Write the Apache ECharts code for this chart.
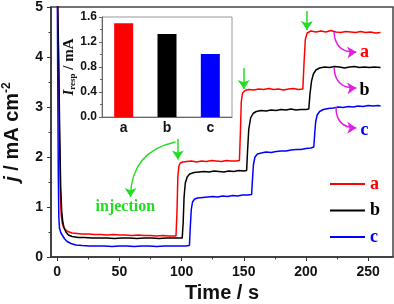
<!DOCTYPE html>
<html>
<head>
<meta charset="utf-8">
<script src="https://cdn.jsdelivr.net/npm/echarts@6/dist/echarts.min.js"></script>
<style>
  html, body { margin: 0; padding: 0; background: #fff; }
  #chart { width: 394px; height: 304px; }
</style>
</head>
<body>
<div id="chart"></div>
<script>
// current vs time, [t (s), j (mA cm-2)]
const curveA = [
  [0, 5.6], [1, 4.0], [1.8, 2.4], [2.5, 1.3], [3.2, 0.85], [4, 0.68], [5, 0.6], [6.5, 0.55], [8.5, 0.51], [12, 0.48],
  [16, 0.47], [20, 0.46], [25, 0.46], [30, 0.45], [35, 0.45], [40, 0.44], [45, 0.45], [50, 0.44], [55, 0.44], [60, 0.43],
  [65, 0.44], [70, 0.43], [75, 0.43], [80, 0.42], [85, 0.43], [90, 0.42], [95.5, 0.42],
  [96.3, 0.9], [97, 1.6], [97.8, 1.82], [99, 1.88], [101, 1.9], [104, 1.91], [108, 1.92], [112, 1.9], [116, 1.92],
  [120, 1.91], [124, 1.93], [128, 1.92], [132, 1.91], [136, 1.93], [140, 1.92], [144, 1.92], [146.5, 1.93],
  [147.3, 2.5], [148, 3.1], [149, 3.28], [151, 3.33], [154, 3.35], [158, 3.34], [162, 3.36], [166, 3.35], [170, 3.37],
  [174, 3.35], [178, 3.36], [182, 3.34], [186, 3.36], [190, 3.37], [194, 3.35], [197.5, 3.36],
  [198.5, 3.9], [199.5, 4.35], [201, 4.48], [204, 4.52], [208, 4.5], [212, 4.52], [216, 4.5], [220, 4.53], [224, 4.5],
  [228, 4.49], [232, 4.51], [236, 4.5], [240, 4.49], [244, 4.51], [248, 4.49], [252, 4.5], [256, 4.48], [260, 4.49]
]
const curveB = [
  [0, 5.6], [1.1, 4.1], [2, 2.5], [2.8, 1.4], [3.6, 0.92], [4.5, 0.7], [5.5, 0.58], [7, 0.5], [9, 0.44], [12, 0.41],
  [17, 0.39], [22, 0.39], [28, 0.38], [34, 0.38], [40, 0.38], [46, 0.37], [52, 0.38], [58, 0.38], [64, 0.37], [70, 0.38],
  [76, 0.38], [82, 0.37], [88, 0.38], [94, 0.38], [100.5, 0.38],
  [101.3, 0.7], [102, 1.2], [103, 1.48], [104.5, 1.6], [106.5, 1.66], [110, 1.69], [114, 1.7], [118, 1.71], [122, 1.7],
  [126, 1.72], [130, 1.71], [134, 1.7], [138, 1.72], [142, 1.71], [146, 1.73], [150, 1.72], [152.3, 1.73],
  [153, 2.1], [154, 2.55], [155.5, 2.78], [157.5, 2.87], [160, 2.91], [164, 2.93], [168, 2.92], [172, 2.94], [176, 2.93],
  [180, 2.95], [184, 2.94], [188, 2.96], [192, 2.94], [196, 2.95], [200, 2.95], [202.3, 2.96],
  [203.2, 3.25], [204.5, 3.52], [206, 3.66], [208, 3.74], [211, 3.78], [215, 3.8], [219, 3.79], [223, 3.81], [227, 3.8],
  [231, 3.78], [235, 3.8], [239, 3.81], [243, 3.79], [247, 3.8], [251, 3.79], [255, 3.8], [260, 3.79]
]
const curveC = [
  [0, 5.6], [0.5, 3.2], [0.9, 1.6], [1.3, 0.8], [1.8, 0.58], [3, 0.48], [4.5, 0.42], [6, 0.36], [8, 0.31], [11, 0.27],
  [15, 0.24], [20, 0.23], [26, 0.22], [32, 0.22], [38, 0.22], [44, 0.21], [50, 0.22], [56, 0.22], [62, 0.21], [68, 0.22],
  [74, 0.22], [80, 0.21], [86, 0.22], [92, 0.22], [98, 0.22], [103, 0.22], [106.3, 0.23],
  [107, 0.6], [107.8, 0.95], [108.8, 1.1], [110.5, 1.16], [113, 1.18], [117, 1.19], [121, 1.2], [125, 1.21], [129, 1.2],
  [133, 1.22], [137, 1.21], [141, 1.23], [145, 1.22], [149, 1.24], [153, 1.24], [156.3, 1.25],
  [157, 1.55], [157.8, 1.85], [159, 2.0], [161, 2.06], [164, 2.08], [168, 2.1], [172, 2.09], [176, 2.11], [180, 2.12],
  [184, 2.12], [188, 2.14], [192, 2.15], [196, 2.15], [200, 2.17], [204, 2.18], [206.3, 2.2],
  [207, 2.45], [207.8, 2.7], [209, 2.84], [211, 2.91], [214, 2.95], [218, 2.97], [222, 2.98], [226, 3.0], [230, 2.99],
  [234, 3.01], [238, 3.0], [242, 3.02], [246, 3.01], [250, 3.03], [254, 3.02], [258, 3.03], [260, 3.02]
]

// inset: response current
const insetCats = ['a', 'b', 'c']
const insetValues = [1.5, 1.33, 1.01]

const timeTicks = [0, 50, 100, 150, 200, 250]
const timeMinorTicks = [25, 75, 125, 175, 225]

// injection points (t) and the plateau they point at
const injectionTimes = [97, 150, 200.8]
const injectionTops = [2.36, 3.78, 4.92]
const injectionTips = [1.95, 3.36, 4.54]

const RED = '#ff0000'
const BLUE = '#0000ff'
const GREEN = '#22dd22'
const MAGENTA = '#e21ee2'
const SANS = '"Liberation Sans", Arial, sans-serif'
const SERIF = '"Liberation Serif", "Times New Roman", serif'
const AXIS = '#333'

const greenArrows = injectionTimes.map((t, i) => ({
  coords: [[t, injectionTops[i]], [t, injectionTips[i]]],
  lineStyle: { color: GREEN, width: 1.5, curveness: 0, opacity: 1 }
}))

// curved pointers: green from the first injection to the text, magenta to the curve labels
const curvedArrows = [
  { coords: [[95.2, 2.3], [58.9, 1.2]], lineStyle: { color: GREEN, width: 1.3, curveness: -0.4, opacity: 1 } },
  { coords: [[222.6, 4.5], [240.5, 4.1]], lineStyle: { color: MAGENTA, width: 1.5, curveness: -0.5, opacity: 1 } },
  { coords: [[222.6, 3.79], [240.5, 3.38]], lineStyle: { color: MAGENTA, width: 1.5, curveness: -0.5, opacity: 1 } },
  { coords: [[224.2, 3.0], [240.5, 2.58]], lineStyle: { color: MAGENTA, width: 1.5, curveness: -0.5, opacity: 1 } }
]

const textMarks = [
  { coord: [54.8, 1.0], text: 'injection', color: GREEN, size: 16 },
  { coord: [247, 4.1], text: 'a', color: RED, size: 18 },
  { coord: [247, 3.34], text: 'b', color: '#000', size: 18 },
  { coord: [247, 2.54], text: 'c', color: BLUE, size: 18 }
]

function lineSeries(name, data, color, extra) {
  return Object.assign({
    name,
    type: 'line',
    xAxisIndex: 0,
    yAxisIndex: 0,
    data,
    symbol: 'none',
    showSymbol: false,
    smooth: false,
    lineStyle: { color, width: 1.5 },
    itemStyle: { color },
    z: 2
  }, extra || {})
}

const option = {
  animation: false,
  backgroundColor: '#fff',
  legend: {
    orient: 'vertical',
    left: 325,
    top: 170,
    icon: 'rect',
    itemWidth: 35,
    itemHeight: 2,
    itemGap: 8.5,
    textStyle: { fontFamily: SERIF, fontWeight: 'bold', fontSize: 18, lineHeight: 18 },
    data: [
      { name: 'a', textStyle: { color: RED } },
      { name: 'b', textStyle: { color: '#000' } },
      { name: 'c', textStyle: { color: BLUE } }
    ]
  },
  grid: [
    {
      left: 51, top: 7, right: 1, bottom: 47, outerBoundsMode: 'none',
      show: true, borderColor: '#444', borderWidth: 1.5, backgroundColor: 'transparent'
    },
    {
      left: 102, top: 17, width: 130, height: 100, outerBoundsMode: 'none',
      show: true, borderColor: '#999', borderWidth: 1, backgroundColor: '#fff', z: 10
    }
  ],
  xAxis: [
    {
      gridIndex: 0,
      type: 'value',
      min: -5,
      max: 270,
      name: 'Time / s',
      nameLocation: 'middle',
      nameGap: 24,
      nameTextStyle: { fontFamily: SANS, fontWeight: 'bold', fontSize: 20, color: '#111' },
      axisLine: { onZero: false, lineStyle: { color: AXIS, width: 1.5 } },
      axisTick: { customValues: timeTicks, length: 4, lineStyle: { color: AXIS } },
      axisLabel: { customValues: timeTicks, margin: 8, fontFamily: SANS, fontWeight: 'bold', fontSize: 14, color: '#111' },
      splitLine: { show: false }
    },
    {
      gridIndex: 0,
      type: 'value',
      min: -5,
      max: 270,
      position: 'bottom',
      axisLine: { show: false, onZero: false },
      axisTick: { customValues: timeMinorTicks, length: 2.5, lineStyle: { color: AXIS } },
      axisLabel: { show: false },
      splitLine: { show: false }
    },
    {
      gridIndex: 1,
      type: 'category',
      data: insetCats,
      z: 12,
      axisLine: { onZero: false, lineStyle: { color: '#666', width: 1 } },
      axisTick: { alignWithLabel: true, length: 3, lineStyle: { color: '#666' } },
      axisLabel: { margin: 4, fontFamily: SANS, fontWeight: 'bold', fontSize: 14, color: '#111' }
    }
  ],
  yAxis: [
    {
      gridIndex: 0,
      type: 'value',
      min: 0,
      max: 5,
      interval: 1,
      name: '{i|j}{n| / mA cm}{sup|-2}',
      nameLocation: 'middle',
      nameRotate: 90,
      nameGap: 28,
      nameTextStyle: {
        color: '#111',
        rich: {
          i: { fontFamily: SANS, fontWeight: 'bold', fontStyle: 'italic', fontSize: 20, color: '#111' },
          n: { fontFamily: SANS, fontWeight: 'bold', fontSize: 20, color: '#111' },
          sup: { fontFamily: SANS, fontWeight: 'bold', fontSize: 12, color: '#111', verticalAlign: 'top', padding: [0, 0, 10, 0] }
        }
      },
      axisLine: { onZero: false, lineStyle: { color: AXIS, width: 1.5 } },
      axisTick: { length: 4, lineStyle: { color: AXIS } },
      minorTick: { show: true, splitNumber: 2, length: 2.5, lineStyle: { color: AXIS } },
      axisLabel: { margin: 8, fontFamily: SANS, fontWeight: 'bold', fontSize: 14, color: '#111' },
      splitLine: { show: false }
    },
    {
      gridIndex: 1,
      type: 'value',
      min: 0,
      max: 1.6,
      interval: 0.4,
      z: 12,
      name: '{i|I}{sub|resp}{n| / mA}',
      nameLocation: 'middle',
      nameRotate: 90,
      nameGap: 25,
      nameMoveOverlap: false,
      nameTextStyle: {
        color: '#111',
        rich: {
          i: { fontFamily: SERIF, fontWeight: 'bold', fontStyle: 'italic', fontSize: 15, color: '#111' },
          sub: { fontFamily: SERIF, fontWeight: 'bold', fontSize: 9, color: '#111', verticalAlign: 'bottom', padding: [6, 0, 0, 0] },
          n: { fontFamily: SERIF, fontWeight: 'bold', fontSize: 15, color: '#111' }
        }
      },
      axisLine: { show: true, onZero: false, lineStyle: { color: '#666', width: 1 } },
      axisTick: { show: true, length: 3, lineStyle: { color: '#666' } },
      minorTick: { show: true, splitNumber: 2, length: 2, lineStyle: { color: '#666' } },
      axisLabel: { margin: 5, fontFamily: SANS, fontWeight: 'bold', fontSize: 12, color: '#111', formatter: (v) => v.toFixed(1) },
      splitLine: { show: false }
    }
  ],
  series: [
    lineSeries('a', curveA, RED, {
      markPoint: {
        silent: true,
        animation: false,
        symbol: 'circle',
        symbolSize: 1,
        itemStyle: { color: 'transparent' },
        data: textMarks.map((m) => ({
          coord: m.coord,
          label: {
            show: true,
            position: 'inside',
            formatter: m.text,
            color: m.color,
            fontFamily: SERIF,
            fontWeight: 'bold',
            fontSize: m.size
          }
        }))
      }
    }),
    lineSeries('b', curveB, '#000'),
    lineSeries('c', curveC, BLUE),
    {
      name: 'arrows',
      type: 'lines',
      coordinateSystem: 'cartesian2d',
      xAxisIndex: 0,
      yAxisIndex: 0,
      silent: true,
      symbol: ['none', 'arrow'],
      symbolSize: 9,
      lineStyle: { opacity: 1 },
      z: 5,
      data: greenArrows.concat(curvedArrows)
    },
    {
      name: 'Iresp',
      type: 'bar',
      xAxisIndex: 2,
      yAxisIndex: 1,
      barWidth: 19,
      z: 11,
      data: insetValues.map((v, i) => ({ value: v, itemStyle: { color: [RED, '#000', BLUE][i] } }))
    }
  ]
}

const chart = echarts.init(document.getElementById('chart'), null, { renderer: 'canvas' })
chart.setOption(option)
</script>
</body>
</html>
